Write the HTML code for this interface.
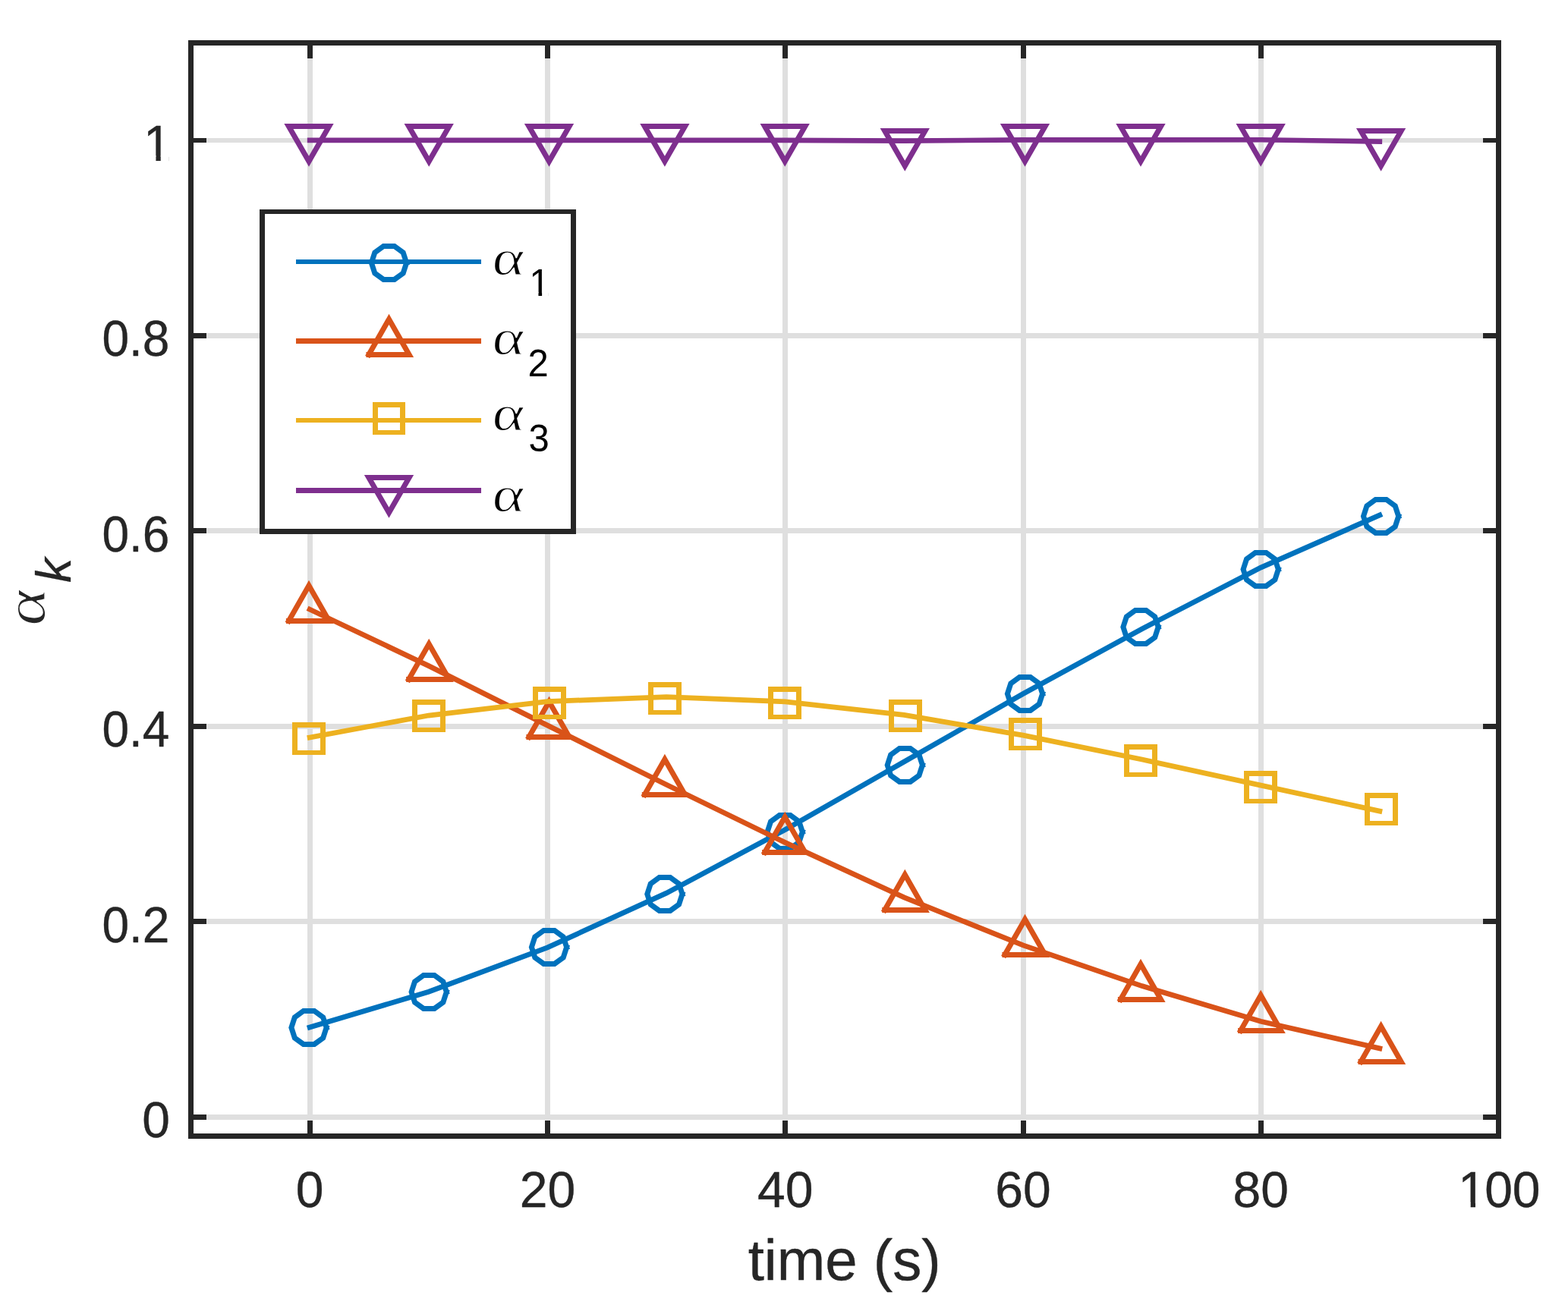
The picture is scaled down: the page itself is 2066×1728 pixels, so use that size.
<!DOCTYPE html>
<html lang="en">
<head>
<meta charset="utf-8">
<title>alpha_k vs time</title>
<style>
html,body{margin:0;padding:0;background:#ffffff;}
body{width:2066px;height:1728px;}
svg{display:block;}
</style>
</head>
<body>
<svg width="2066" height="1728" viewBox="0 0 2066 1728" role="img" aria-label="alpha_k versus time (s)">
<rect x="0" y="0" width="2066" height="1728" fill="#ffffff"/>
<g fill="#dfdfdf">
<rect x="405" y="60" width="7" height="1434"/>
<rect x="718" y="60" width="7" height="1434"/>
<rect x="1031" y="60" width="7" height="1434"/>
<rect x="1345" y="60" width="7" height="1434"/>
<rect x="1658" y="60" width="7" height="1434"/>
<rect x="255" y="1469" width="1716" height="7"/>
<rect x="255" y="1211" width="1716" height="7"/>
<rect x="255" y="954" width="1716" height="7"/>
<rect x="255" y="696" width="1716" height="7"/>
<rect x="255" y="439" width="1716" height="7"/>
<rect x="255" y="182" width="1716" height="6"/>
</g>
<g fill="#262626">
<rect x="248" y="53" width="7" height="1448"/>
<rect x="1971" y="53" width="7" height="1448"/>
<rect x="248" y="53" width="1730" height="7"/>
<rect x="248" y="1494" width="1730" height="7"/>
<rect x="405" y="60" width="7" height="17"/>
<rect x="405" y="1477" width="7" height="17"/>
<rect x="718" y="60" width="7" height="17"/>
<rect x="718" y="1477" width="7" height="17"/>
<rect x="1031" y="60" width="7" height="17"/>
<rect x="1031" y="1477" width="7" height="17"/>
<rect x="1345" y="60" width="7" height="17"/>
<rect x="1345" y="1477" width="7" height="17"/>
<rect x="1658" y="60" width="7" height="17"/>
<rect x="1658" y="1477" width="7" height="17"/>
<rect x="255" y="1469" width="17" height="7"/>
<rect x="1954" y="1469" width="17" height="7"/>
<rect x="255" y="1211" width="17" height="7"/>
<rect x="1954" y="1211" width="17" height="7"/>
<rect x="255" y="954" width="17" height="7"/>
<rect x="1954" y="954" width="17" height="7"/>
<rect x="255" y="696" width="17" height="7"/>
<rect x="1954" y="696" width="17" height="7"/>
<rect x="255" y="439" width="17" height="7"/>
<rect x="1954" y="439" width="17" height="7"/>
<rect x="255" y="182" width="17" height="6"/>
<rect x="1954" y="182" width="17" height="6"/>
</g>
<g>
<polyline points="408.14,1354.1 564.77,1307.2 721.41,1248.95 878.05,1177.2 1034.68,1093.5 1191.32,1004 1347.95,914.5 1504.59,829 1661.23,748.1 1817.86,679" fill="none" stroke="#0072bd" stroke-width="6.8" stroke-linecap="square" stroke-linejoin="miter"/>
<path d="M430.1 1354.45 L425.69 1340.87 L414.14 1332.48 L399.86 1332.48 L388.31 1340.87 L383.9 1354.45 L388.31 1368.03 L399.86 1376.42 L414.14 1376.42 L425.69 1368.03 L430.1 1354.45" fill="none" stroke="#0072bd" stroke-width="7" stroke-linejoin="miter" stroke-linecap="square"/>
<path d="M588.3 1307.45 L583.89 1293.87 L572.34 1285.48 L558.06 1285.48 L546.51 1293.87 L542.1 1307.45 L546.51 1321.03 L558.06 1329.42 L572.34 1329.42 L583.89 1321.03 L588.3 1307.45" fill="none" stroke="#0072bd" stroke-width="7" stroke-linejoin="miter" stroke-linecap="square"/>
<path d="M746.6 1248.45 L742.19 1234.87 L730.64 1226.48 L716.36 1226.48 L704.81 1234.87 L700.4 1248.45 L704.81 1262.03 L716.36 1270.42 L730.64 1270.42 L742.19 1262.03 L746.6 1248.45" fill="none" stroke="#0072bd" stroke-width="7" stroke-linejoin="miter" stroke-linecap="square"/>
<path d="M899 1178.45 L894.59 1164.87 L883.04 1156.48 L868.76 1156.48 L857.21 1164.87 L852.8 1178.45 L857.21 1192.03 L868.76 1200.42 L883.04 1200.42 L894.59 1192.03 L899 1178.45" fill="none" stroke="#0072bd" stroke-width="7" stroke-linejoin="miter" stroke-linecap="square"/>
<path d="M1057.3 1096.45 L1052.89 1082.87 L1041.34 1074.48 L1027.06 1074.48 L1015.51 1082.87 L1011.1 1096.45 L1015.51 1110.03 L1027.06 1118.42 L1041.34 1118.42 L1052.89 1110.03 L1057.3 1096.45" fill="none" stroke="#0072bd" stroke-width="7" stroke-linejoin="miter" stroke-linecap="square"/>
<path d="M1215.4 1008.45 L1210.99 994.87 L1199.44 986.48 L1185.16 986.48 L1173.61 994.87 L1169.2 1008.45 L1173.61 1022.03 L1185.16 1030.42 L1199.44 1030.42 L1210.99 1022.03 L1215.4 1008.45" fill="none" stroke="#0072bd" stroke-width="7" stroke-linejoin="miter" stroke-linecap="square"/>
<path d="M1373.6 914.45 L1369.19 900.87 L1357.64 892.48 L1343.36 892.48 L1331.81 900.87 L1327.4 914.45 L1331.81 928.03 L1343.36 936.42 L1357.64 936.42 L1369.19 928.03 L1373.6 914.45" fill="none" stroke="#0072bd" stroke-width="7" stroke-linejoin="miter" stroke-linecap="square"/>
<path d="M1526.1 826.45 L1521.69 812.87 L1510.14 804.48 L1495.86 804.48 L1484.31 812.87 L1479.9 826.45 L1484.31 840.03 L1495.86 848.42 L1510.14 848.42 L1521.69 840.03 L1526.1 826.45" fill="none" stroke="#0072bd" stroke-width="7" stroke-linejoin="miter" stroke-linecap="square"/>
<path d="M1684.3 750.45 L1679.89 736.87 L1668.34 728.48 L1654.06 728.48 L1642.51 736.87 L1638.1 750.45 L1642.51 764.03 L1654.06 772.42 L1668.34 772.42 L1679.89 764.03 L1684.3 750.45" fill="none" stroke="#0072bd" stroke-width="7" stroke-linejoin="miter" stroke-linecap="square"/>
<path d="M1842.7 680.45 L1838.29 666.87 L1826.74 658.48 L1812.46 658.48 L1800.91 666.87 L1796.5 680.45 L1800.91 694.03 L1812.46 702.42 L1826.74 702.42 L1838.29 694.03 L1842.7 680.45" fill="none" stroke="#0072bd" stroke-width="7" stroke-linejoin="miter" stroke-linecap="square"/>
<polyline points="408.14,803.2 564.77,877.6 721.41,956.1 878.05,1034.3 1034.68,1110.6 1191.32,1182.8 1347.95,1245.9 1504.59,1299.6 1661.23,1346.3 1817.86,1381.9" fill="none" stroke="#d95319" stroke-width="6.8" stroke-linecap="square" stroke-linejoin="miter"/>
<path d="M380.4 818.5 L407 771.8 L433.6 818.5 L380.4 818.5" fill="none" stroke="#d95319" stroke-width="7" stroke-linejoin="miter" stroke-miterlimit="10" stroke-linecap="square"/>
<path d="M538.6 895.5 L565.2 848.8 L591.8 895.5 L538.6 895.5" fill="none" stroke="#d95319" stroke-width="7" stroke-linejoin="miter" stroke-miterlimit="10" stroke-linecap="square"/>
<path d="M696.9 971.5 L723.5 924.8 L750.1 971.5 L696.9 971.5" fill="none" stroke="#d95319" stroke-width="7" stroke-linejoin="miter" stroke-miterlimit="10" stroke-linecap="square"/>
<path d="M849.3 1047.5 L875.9 1000.8 L902.5 1047.5 L849.3 1047.5" fill="none" stroke="#d95319" stroke-width="7" stroke-linejoin="miter" stroke-miterlimit="10" stroke-linecap="square"/>
<path d="M1007.6 1123.5 L1034.2 1076.8 L1060.8 1123.5 L1007.6 1123.5" fill="none" stroke="#d95319" stroke-width="7" stroke-linejoin="miter" stroke-miterlimit="10" stroke-linecap="square"/>
<path d="M1165.7 1199.5 L1192.3 1152.8 L1218.9 1199.5 L1165.7 1199.5" fill="none" stroke="#d95319" stroke-width="7" stroke-linejoin="miter" stroke-miterlimit="10" stroke-linecap="square"/>
<path d="M1323.9 1258.5 L1350.5 1211.8 L1377.1 1258.5 L1323.9 1258.5" fill="none" stroke="#d95319" stroke-width="7" stroke-linejoin="miter" stroke-miterlimit="10" stroke-linecap="square"/>
<path d="M1476.4 1317.5 L1503 1270.8 L1529.6 1317.5 L1476.4 1317.5" fill="none" stroke="#d95319" stroke-width="7" stroke-linejoin="miter" stroke-miterlimit="10" stroke-linecap="square"/>
<path d="M1634.6 1358.5 L1661.2 1311.8 L1687.8 1358.5 L1634.6 1358.5" fill="none" stroke="#d95319" stroke-width="7" stroke-linejoin="miter" stroke-miterlimit="10" stroke-linecap="square"/>
<path d="M1793 1399.5 L1819.6 1352.8 L1846.2 1399.5 L1793 1399.5" fill="none" stroke="#d95319" stroke-width="7" stroke-linejoin="miter" stroke-miterlimit="10" stroke-linecap="square"/>
<polyline points="408.14,972 564.77,943 721.41,924.6 878.05,918.6 1034.68,924.8 1191.32,942.4 1347.95,969.2 1504.59,1001 1661.23,1035.1 1817.86,1069.1" fill="none" stroke="#edb120" stroke-width="6.8" stroke-linecap="square" stroke-linejoin="miter"/>
<path d="M385 952H429V995H385Z M392 959V989H422V959Z" fill="#edb120" fill-rule="evenodd"/>
<path d="M543 922H587V965H543Z M550 929V959H580V929Z" fill="#edb120" fill-rule="evenodd"/>
<path d="M702 905H746V948H702Z M709 912V942H739V912Z" fill="#edb120" fill-rule="evenodd"/>
<path d="M854 899H898V942H854Z M861 906V936H891V906Z" fill="#edb120" fill-rule="evenodd"/>
<path d="M1012 905H1056V948H1012Z M1019 912V942H1049V912Z" fill="#edb120" fill-rule="evenodd"/>
<path d="M1171 922H1215V965H1171Z M1178 929V959H1208V929Z" fill="#edb120" fill-rule="evenodd"/>
<path d="M1329 946H1373V989H1329Z M1336 953V983H1366V953Z" fill="#edb120" fill-rule="evenodd"/>
<path d="M1481 981H1525V1024H1481Z M1488 988V1018H1518V988Z" fill="#edb120" fill-rule="evenodd"/>
<path d="M1639 1016H1683V1059H1639Z M1646 1023V1053H1676V1023Z" fill="#edb120" fill-rule="evenodd"/>
<path d="M1798 1045H1842V1088H1798Z M1805 1052V1082H1835V1052Z" fill="#edb120" fill-rule="evenodd"/>
<polyline points="408.14,184.9 564.77,184.9 721.41,184.9 878.05,184.9 1034.68,184.9 1191.32,185.6 1347.95,184.4 1504.59,184.4 1661.23,184.3 1817.86,186.6" fill="none" stroke="#7e2f8e" stroke-width="6.6" stroke-linecap="square" stroke-linejoin="miter"/>
<path d="M407 212.8 L380.4 166.5 L433.6 166.5 Z" fill="none" stroke="#7e2f8e" stroke-width="7" stroke-linejoin="miter" stroke-miterlimit="10"/>
<path d="M565.2 212.8 L538.6 166.5 L591.8 166.5 Z" fill="none" stroke="#7e2f8e" stroke-width="7" stroke-linejoin="miter" stroke-miterlimit="10"/>
<path d="M723.5 212.8 L696.9 166.5 L750.1 166.5 Z" fill="none" stroke="#7e2f8e" stroke-width="7" stroke-linejoin="miter" stroke-miterlimit="10"/>
<path d="M875.9 212.8 L849.3 166.5 L902.5 166.5 Z" fill="none" stroke="#7e2f8e" stroke-width="7" stroke-linejoin="miter" stroke-miterlimit="10"/>
<path d="M1034.2 212.8 L1007.6 166.5 L1060.8 166.5 Z" fill="none" stroke="#7e2f8e" stroke-width="7" stroke-linejoin="miter" stroke-miterlimit="10"/>
<path d="M1192.3 218.8 L1165.7 172.5 L1218.9 172.5 Z" fill="none" stroke="#7e2f8e" stroke-width="7" stroke-linejoin="miter" stroke-miterlimit="10"/>
<path d="M1350.5 212.8 L1323.9 166.5 L1377.1 166.5 Z" fill="none" stroke="#7e2f8e" stroke-width="7" stroke-linejoin="miter" stroke-miterlimit="10"/>
<path d="M1503 212.8 L1476.4 166.5 L1529.6 166.5 Z" fill="none" stroke="#7e2f8e" stroke-width="7" stroke-linejoin="miter" stroke-miterlimit="10"/>
<path d="M1661.2 212.8 L1634.6 166.5 L1687.8 166.5 Z" fill="none" stroke="#7e2f8e" stroke-width="7" stroke-linejoin="miter" stroke-miterlimit="10"/>
<path d="M1819.6 218.8 L1793 172.5 L1846.2 172.5 Z" fill="none" stroke="#7e2f8e" stroke-width="7" stroke-linejoin="miter" stroke-miterlimit="10"/>
</g>
<defs><clipPath id="c1"><rect x="0" y="-760" width="346" height="660"/><rect x="248" y="-102" width="95" height="112"/><rect x="512" y="-900" width="2600" height="1200"/></clipPath></defs>
<g>
<text transform="translate(389.78 1591.4) scale(1 1.01)" font-family="'Liberation Sans', Arial, Helvetica, sans-serif" font-size="66" fill="#262626" stroke="#262626" stroke-width="0.4" stroke-linejoin="round">0</text>
<text transform="translate(684.7 1591.4) scale(1 1.01)" font-family="'Liberation Sans', Arial, Helvetica, sans-serif" font-size="66" fill="#262626" stroke="#262626" stroke-width="0.4" stroke-linejoin="round">20</text>
<text transform="translate(997.98 1591.4) scale(1 1.01)" font-family="'Liberation Sans', Arial, Helvetica, sans-serif" font-size="66" fill="#262626" stroke="#262626" stroke-width="0.4" stroke-linejoin="round">40</text>
<text transform="translate(1311.25 1591.4) scale(1 1.01)" font-family="'Liberation Sans', Arial, Helvetica, sans-serif" font-size="66" fill="#262626" stroke="#262626" stroke-width="0.4" stroke-linejoin="round">60</text>
<text transform="translate(1624.52 1591.4) scale(1 1.01)" font-family="'Liberation Sans', Arial, Helvetica, sans-serif" font-size="66" fill="#262626" stroke="#262626" stroke-width="0.4" stroke-linejoin="round">80</text>
<g transform="translate(1921.34 1591.4) scale(0.0660 0.0667)" clip-path="url(#c1)"><text font-family="'Liberation Sans', Arial, Helvetica, sans-serif" font-size="1000" fill="#262626" stroke="#262626" stroke-width="6.06" stroke-linejoin="miter">1<tspan dx="-28.79">00</tspan></text></g>
<text transform="translate(187.19 1499.3) scale(1 1.01)" font-family="'Liberation Sans', Arial, Helvetica, sans-serif" font-size="66" fill="#262626" stroke="#262626" stroke-width="0.4" stroke-linejoin="round">0</text>
<text transform="translate(134.44 1241.78) scale(0.97 1.01)" font-family="'Liberation Sans', Arial, Helvetica, sans-serif" font-size="66" fill="#262626" stroke="#262626" stroke-width="0.4" stroke-linejoin="round">0.2</text>
<text transform="translate(134.44 984.26) scale(0.97 1.01)" font-family="'Liberation Sans', Arial, Helvetica, sans-serif" font-size="66" fill="#262626" stroke="#262626" stroke-width="0.4" stroke-linejoin="round">0.4</text>
<text transform="translate(134.44 726.74) scale(0.97 1.01)" font-family="'Liberation Sans', Arial, Helvetica, sans-serif" font-size="66" fill="#262626" stroke="#262626" stroke-width="0.4" stroke-linejoin="round">0.6</text>
<text transform="translate(134.44 469.22) scale(0.97 1.01)" font-family="'Liberation Sans', Arial, Helvetica, sans-serif" font-size="66" fill="#262626" stroke="#262626" stroke-width="0.4" stroke-linejoin="round">0.8</text>
<g transform="translate(189.09 211.7) scale(0.0660 0.0667)" clip-path="url(#c1)"><text font-family="'Liberation Sans', Arial, Helvetica, sans-serif" font-size="1000" fill="#262626" stroke="#262626" stroke-width="6.06" stroke-linejoin="miter">1</text></g>
</g>
<text transform="translate(985.7 1686.8) scale(1 1)" font-family="'Liberation Sans', Arial, Helvetica, sans-serif" font-size="76.2" fill="#262626" stroke="#262626" stroke-width="0.4" stroke-linejoin="round">time (s)</text>
<g>
<text transform="translate(58.6 826.7) rotate(-90) skewX(-5) scale(1.23 1)" font-family="'Liberation Serif', 'DejaVu Serif', serif" font-size="75.5" fill="#262626" stroke="#ffffff" stroke-width="1.2" stroke-linejoin="round">α</text>
<text transform="translate(93 768) rotate(-90)" font-family="'Liberation Sans', Arial, Helvetica, sans-serif" font-style="italic" font-size="65" fill="#262626" stroke="#262626" stroke-width="0.3">k</text>
</g>
<g>
<rect x="349" y="282" width="403" height="415" fill="#ffffff"/>
<g fill="#262626">
<rect x="342" y="276" width="7" height="428"/>
<rect x="752" y="276" width="7" height="428"/>
<rect x="342" y="276" width="417" height="6"/>
<rect x="342" y="697" width="417" height="7"/>
</g>
<rect x="390" y="342" width="244" height="6" fill="#0072bd"/>
<rect x="390" y="446" width="244" height="7" fill="#d95319"/>
<rect x="390" y="551" width="244" height="6" fill="#edb120"/>
<rect x="390" y="643" width="244" height="7" fill="#7e2f8e"/>
<path d="M535.6 346.45 L531.19 332.87 L519.64 324.48 L505.36 324.48 L493.81 332.87 L489.4 346.45 L493.81 360.03 L505.36 368.42 L519.64 368.42 L531.19 360.03 L535.6 346.45" fill="none" stroke="#0072bd" stroke-width="7" stroke-linejoin="miter" stroke-linecap="square"/>
<path d="M485.9 467.5 L512.5 420.8 L539.1 467.5 L485.9 467.5" fill="none" stroke="#d95319" stroke-width="7" stroke-linejoin="miter" stroke-miterlimit="10" stroke-linecap="square"/>
<path d="M491 530H534V573H491Z M498 537V567H527V537Z" fill="#edb120" fill-rule="evenodd"/>
<path d="M512.5 675.8 L485.9 629.5 L539.1 629.5 Z" fill="none" stroke="#7e2f8e" stroke-width="7" stroke-linejoin="miter" stroke-miterlimit="10"/>
<text transform="translate(647.2 362) skewX(-5) scale(1.21 1)" font-family="'Liberation Serif', 'DejaVu Serif', serif" font-size="66" fill="#000000" stroke="#ffffff" stroke-width="1.2" stroke-linejoin="round">α</text>
<text transform="translate(647.2 467) skewX(-5) scale(1.21 1)" font-family="'Liberation Serif', 'DejaVu Serif', serif" font-size="66" fill="#000000" stroke="#ffffff" stroke-width="1.2" stroke-linejoin="round">α</text>
<text transform="translate(647.2 567) skewX(-5) scale(1.21 1)" font-family="'Liberation Serif', 'DejaVu Serif', serif" font-size="66" fill="#000000" stroke="#ffffff" stroke-width="1.2" stroke-linejoin="round">α</text>
<text transform="translate(647.2 673.5) skewX(-5) scale(1.21 1)" font-family="'Liberation Serif', 'DejaVu Serif', serif" font-size="66" fill="#000000" stroke="#ffffff" stroke-width="1.2" stroke-linejoin="round">α</text>
<g transform="translate(697.3 389.9) scale(0.0490 0.0495)" clip-path="url(#c1)"><text font-family="'Liberation Sans', Arial, Helvetica, sans-serif" font-size="1000" fill="#000000">1</text></g>
<text transform="translate(695.4 496) scale(1 1.01)" font-family="'Liberation Sans', Arial, Helvetica, sans-serif" font-size="49" fill="#000000">2</text>
<text transform="translate(696.5 595.3) scale(1 1.01)" font-family="'Liberation Sans', Arial, Helvetica, sans-serif" font-size="49" fill="#000000">3</text>
</g>
</svg>
</body>
</html>
